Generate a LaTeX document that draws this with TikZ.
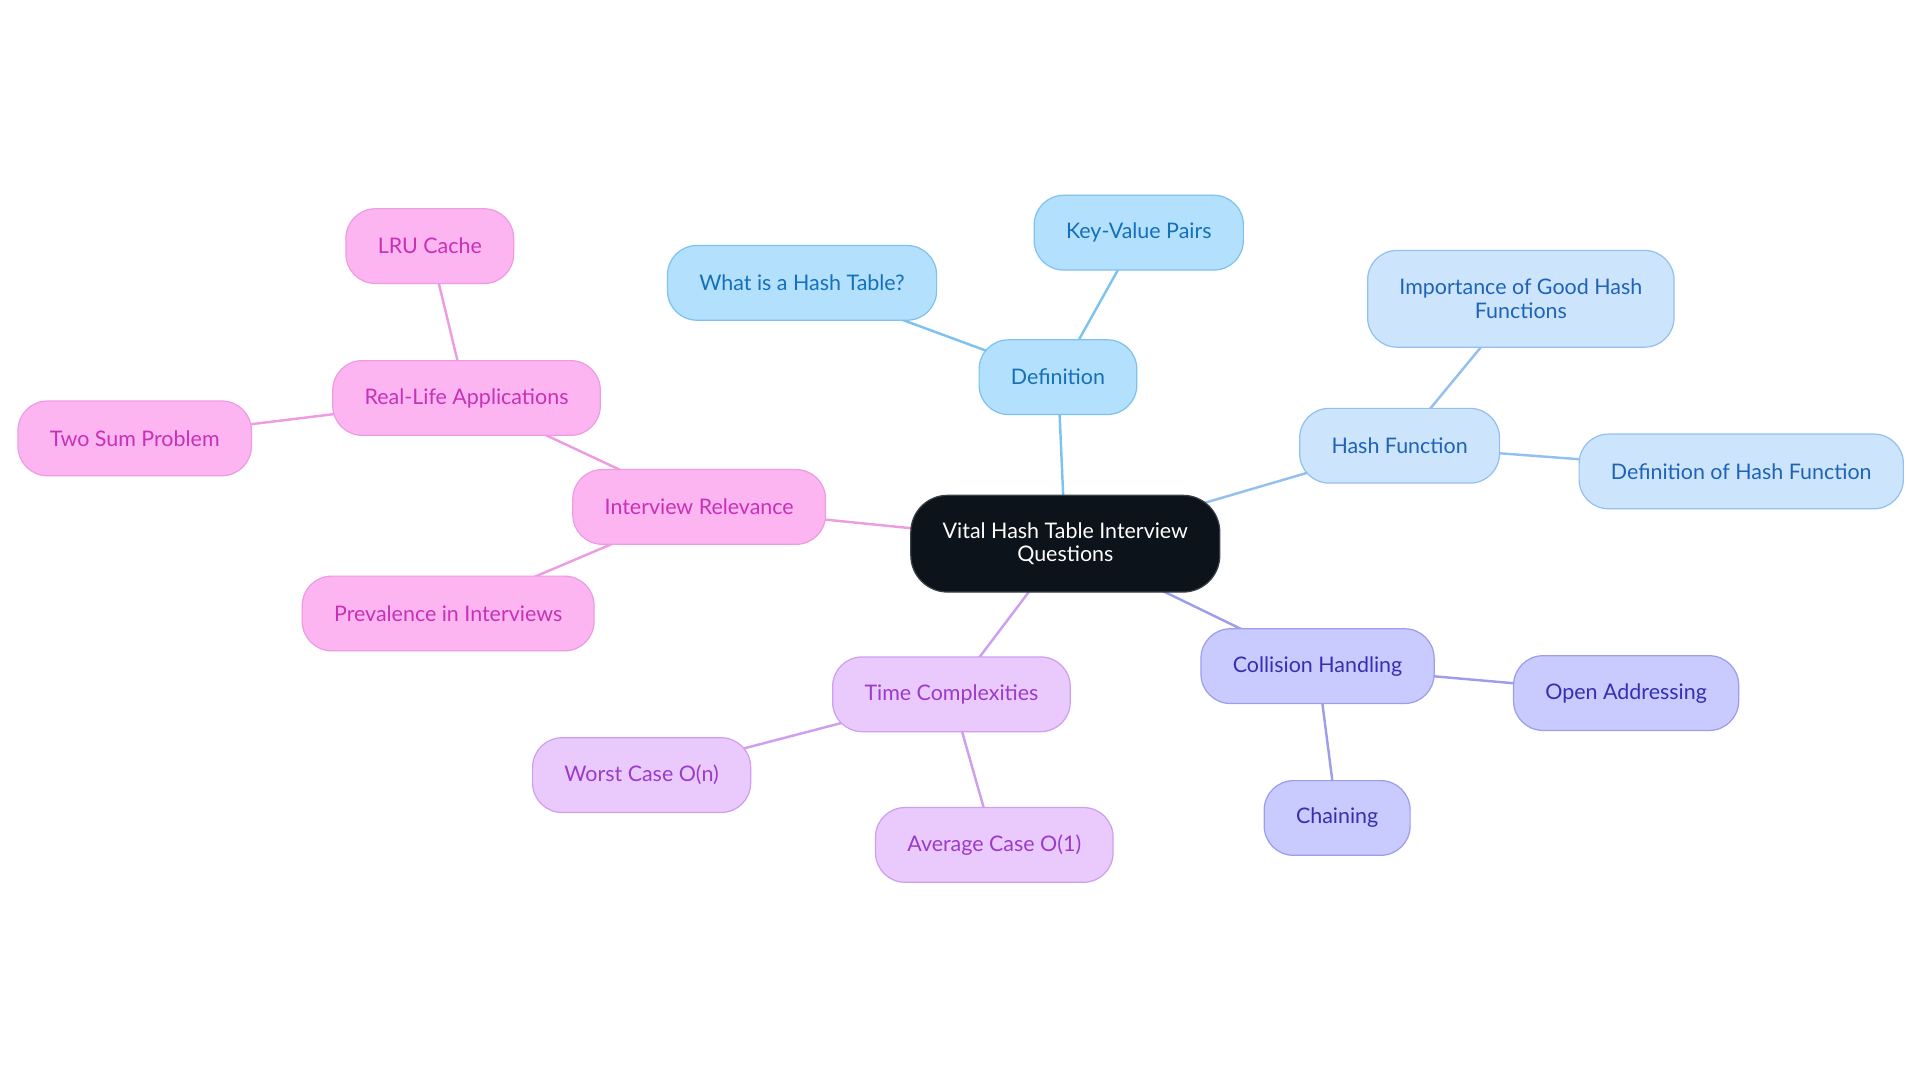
\documentclass[tikz,border=0pt]{standalone}
\usepackage{fontspec}
\setmainfont{Lato}
\usetikzlibrary{positioning,backgrounds}

\definecolor{rootfill}{HTML}{0D131B}
\definecolor{rootdraw}{HTML}{3A4048}
\definecolor{deffill}{HTML}{B3E0FD}
\definecolor{defdraw}{HTML}{7EC3EF}
\definecolor{deftext}{HTML}{1470B8}
\definecolor{hashfill}{HTML}{CCE5FC}
\definecolor{hashdraw}{HTML}{93C0EE}
\definecolor{hashtext}{HTML}{1F63B8}
\definecolor{collfill}{HTML}{C9CAFD}
\definecolor{colldraw}{HTML}{9C9DEB}
\definecolor{colltext}{HTML}{3430B0}
\definecolor{timefill}{HTML}{EACAFD}
\definecolor{timedraw}{HTML}{CE9FEE}
\definecolor{timetext}{HTML}{9B3BCB}
\definecolor{intfill}{HTML}{FDB5F2}
\definecolor{intdraw}{HTML}{EE9CE1}
\definecolor{inttext}{HTML}{C731B5}

\tikzset{every picture/.style={line width=0.5pt}}
\tikzset{
  topic/.style={rounded corners=12pt, inner xsep=13pt, inner ysep=10pt, minimum height=30.5pt,
    align=center, font=\fontsize{8.75}{9.5}\selectfont, line width=0.5pt},
  twoline/.style={minimum height=39.5pt},
  rootbox/.style={topic, twoline, fill=rootfill, draw=rootdraw, text=white, rounded corners=15pt},
  defbox/.style={topic, fill=deffill, draw=defdraw, text=deftext},
  hashbox/.style={topic, fill=hashfill, draw=hashdraw, text=hashtext},
  collbox/.style={topic, fill=collfill, draw=colldraw, text=colltext},
  timebox/.style={topic, fill=timefill, draw=timedraw, text=timetext},
  intbox/.style={topic, fill=intfill, draw=intdraw, text=inttext},
  link/.style={line width=1pt}
}

\begin{document}
\begin{tikzpicture}[x=0.5pt,y=0.5pt,yscale=-1]
	\useasboundingbox (0,0) rectangle (1568,884.4);
	
	% Root
	\node [rootbox] (root) at (870,444) {Vital Hash Table Interview\\Questions};
	
	% Definition branch
	\node [defbox] (def) at (864,308) {Definition};
	\node [defbox] (what) at (655,231) {What is a Hash Table?};
	\node [defbox] (kv) at (930,190) {Key-Value Pairs};
	
	% Hash Function branch
	\node [hashbox] (hf) at (1143,364) {Hash Function};
	\node [hashbox, twoline] (good) at (1242,244) {Importance of Good Hash\\Functions};
	\node [hashbox] (hfdef) at (1422,385) {Definition of Hash Function};
	
	% Collision Handling branch
	\node [collbox] (coll) at (1076,544) {Collision Handling};
	\node [collbox] (open) at (1328,566) {Open Addressing};
	\node [collbox] (chain) at (1092,668) {Chaining};
	
	% Time Complexities branch
	\node [timebox] (time) at (777,567) {Time Complexities};
	\node [timebox] (worst) at (524,633) {Worst Case O(n)};
	\node [timebox] (avg) at (812,690) {Average Case O(1)};
	
	% Interview Relevance branch
	\node [intbox] (rel) at (571,414) {Interview Relevance};
	\node [intbox] (real) at (381,325) {Real-Life Applications};
	\node [intbox] (lru) at (351,201) {LRU Cache};
	\node [intbox] (twosum) at (110,358) {Two Sum Problem};
	\node [intbox] (prev) at (366,501) {Prevalence in Interviews};
	
	% Connectors, behind the boxes
	\begin{pgfonlayer}{background}
	\draw [link, draw=defdraw] (root.center) -- (def.center);
	\draw [link, draw=defdraw] (def.center) -- (what.center);
	\draw [link, draw=defdraw] (def.center) -- (kv.center);
	\draw [link, draw=hashdraw] (root.center) -- (hf.center);
	\draw [link, draw=hashdraw] (hf.center) -- (good.center);
	\draw [link, draw=hashdraw] (hf.center) -- (hfdef.center);
	\draw [link, draw=colldraw] (root.center) -- (coll.center);
	\draw [link, draw=colldraw] (coll.center) -- (open.center);
	\draw [link, draw=colldraw] (coll.center) -- (chain.center);
	\draw [link, draw=timedraw] (root.center) -- (time.center);
	\draw [link, draw=timedraw] (time.center) -- (worst.center);
	\draw [link, draw=timedraw] (time.center) -- (avg.center);
	\draw [link, draw=intdraw] (root.center) -- (rel.center);
	\draw [link, draw=intdraw] (rel.center) -- (real.center);
	\draw [link, draw=intdraw] (real.center) -- (lru.center);
	\draw [link, draw=intdraw] (real.center) -- (twosum.center);
	\draw [link, draw=intdraw] (rel.center) -- (prev.center);
	\end{pgfonlayer}
	
\end{tikzpicture}
\end{document}
